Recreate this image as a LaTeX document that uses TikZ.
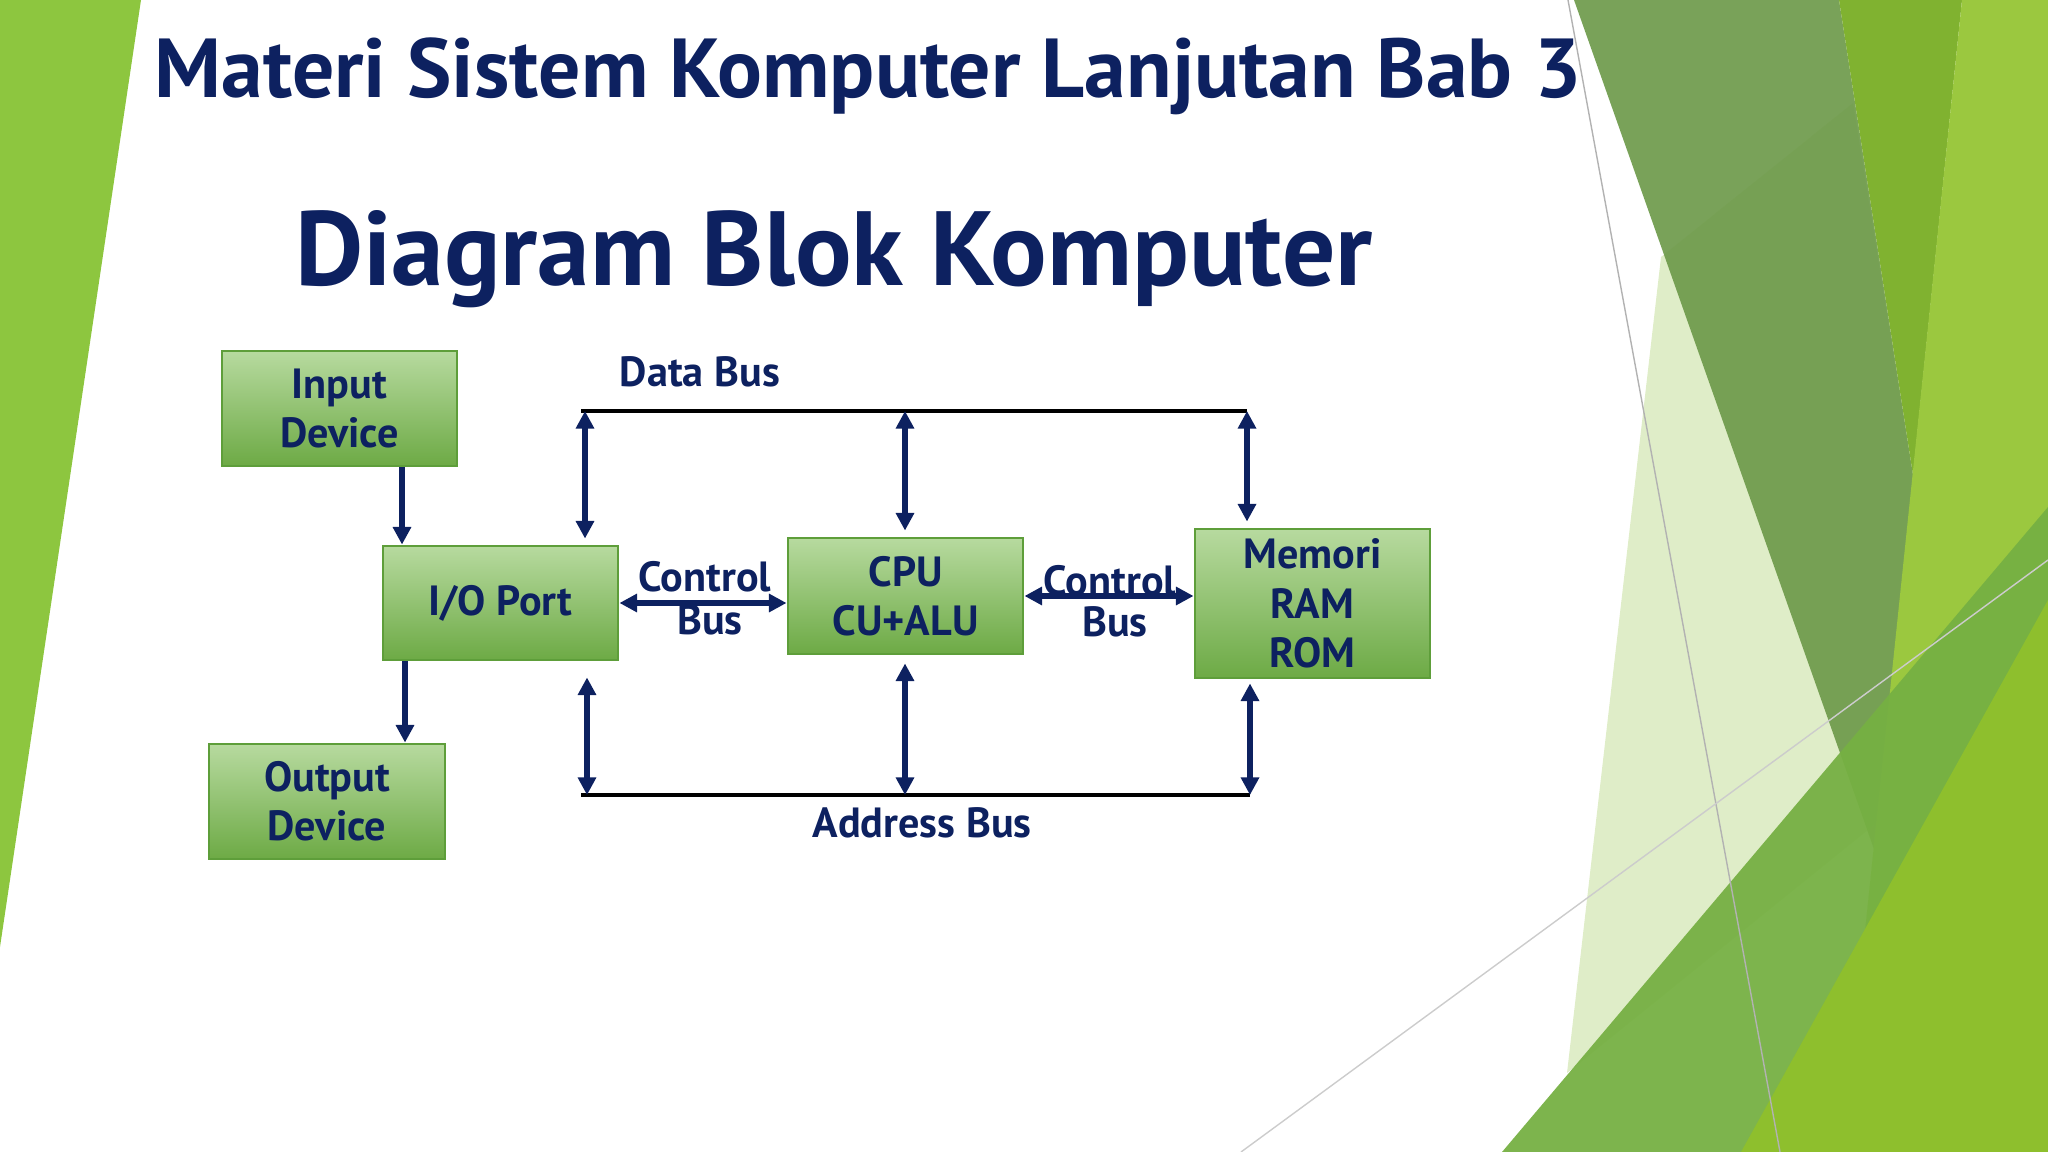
\documentclass[tikz,border=0pt]{standalone}
\usepackage{fontspec}
\setmainfont{PT Sans}
\usetikzlibrary{arrows.meta}
\definecolor{navy}{HTML}{0D2160}
\definecolor{leafA}{HTML}{8DC63F}
\definecolor{leafB}{HTML}{6E9A4B}
\definecolor{leafC}{HTML}{80B230}
\definecolor{leafD}{HTML}{9BC83F}
\definecolor{leafE}{HTML}{76B043}
\definecolor{leafF}{HTML}{8EBF2D}
\definecolor{pale}{HTML}{DCEBC2}
\definecolor{boxtop}{HTML}{B7DA9F}
\definecolor{boxbot}{HTML}{6DAA45}
\definecolor{boxline}{HTML}{5E9E3A}
\tikzset{
  blok/.style={draw=boxline, line width=0.8pt, top color=boxtop, bottom color=boxbot,
    text=navy, font=\bfseries\fontsize{12}{14}\selectfont, align=center, inner sep=0pt},
  arr/.style={navy, line width=1.5pt, -{Triangle[length=5pt,width=5pt]}},
  darr/.style={arr, {Triangle[length=5pt,width=5pt]}-{Triangle[length=5pt,width=5pt]}},
  bus/.style={black, line width=1.2pt},
  lbl/.style={text=navy, font=\bfseries\fontsize{12}{14}\selectfont, inner sep=1pt},
}
\begin{document}
\begin{tikzpicture}[x=0.01cm, y=-0.01cm]
\useasboundingbox (0,0) rectangle (2048,1152);
% background leaves
\fill[leafA] (0,0) -- (141,0) -- (0,947) -- cycle;
\fill[pale, opacity=0.9] (1661,257) -- (1853,103) -- (1958,757) -- (1567,1073) -- cycle;
\fill[leafB, opacity=0.92] (1574,0) -- (1839,0) -- (1913,475) -- (1875,852) -- cycle;
\fill[leafC] (1839,0) -- (1962,0) -- (1913,475) -- cycle;
\fill[leafD] (1962,0) -- (2048,0) -- (2048,1152) -- (1842,1152) -- cycle;
\fill[leafE, opacity=0.95] (1502,1152) -- (2048,507) -- (2048,1152) -- cycle;
\fill[leafF] (1741,1152) -- (2048,600) -- (2048,1152) -- cycle;
\draw[gray!60, line width=0.4pt] (1568,0) -- (1780,1152);
\draw[gray!40, line width=0.4pt] (1241,1152) -- (2048,560);
% titles
\node[text=navy, font=\bfseries\fontsize{23.8}{28}\selectfont, anchor=base west, inner sep=0pt]
  (judul) at (154,98) {Materi Sistem Komputer Lanjutan Bab 3};
\node[text=navy, font=\bfseries\fontsize{30}{36}\selectfont, anchor=base, inner sep=0pt]
  (sub) at (834,286) {Diagram Blok Komputer};
% blocks
\node[blok, minimum width=2.35cm, minimum height=1.15cm] (in) at (339.5,408.5) {Input\\Device};
\node[blok, minimum width=2.35cm, minimum height=1.14cm] (io) at (500.5,603) {I/O Port};
\node[blok, minimum width=2.35cm, minimum height=1.16cm] (cpu) at (905.5,596) {CPU\\CU+ALU};
\node[blok, minimum width=2.35cm, minimum height=1.49cm] (mem) at (1312.5,603.5) {Memori\\RAM\\ROM};
\node[blok, minimum width=2.36cm, minimum height=1.15cm] (out) at (327,801.5) {Output\\Device};
% buses
\coordinate (d1) at (585,411); \coordinate (d2) at (905,411); \coordinate (d3) at (1247,411);
\coordinate (a1) at (587,795); \coordinate (a2) at (905,795); \coordinate (a3) at (1250,795);
\draw[bus] (581,411) -- (d3);
\draw[bus] (581,795) -- (a3);
\node[lbl] (dbus) at (700,372) {Data Bus};
\node[lbl] (abus) at (922,823) {Address Bus};
\draw[darr] (d1) -- ([yshift=0.06cm]d1 |- io.north);
\draw[darr] (d2) -- ([yshift=0.06cm]d2 |- cpu.north);
\draw[darr] (d3) -- ([yshift=0.06cm]d3 |- mem.north);
\draw[darr] (a1) -- ([yshift=-0.16cm]a1 |- io.south);
\draw[darr] (a2) -- ([yshift=-0.08cm]a2 |- cpu.south);
\draw[darr] (a3) -- ([yshift=-0.04cm]a3 |- mem.south);
% control buses
\draw[darr] (io.east) -- (io.east -| cpu.west);
\draw[darr] (cpu.east) -- (cpu.east -| mem.west);
\node[lbl, anchor=south] (c1a) at (705,596) {Control};
\node[lbl, anchor=north] (c1b) at (710,600) {Bus};
\node[lbl, anchor=south] (c2a) at (1110,600) {Control};
\node[lbl, anchor=north] (c2b) at (1115,602) {Bus};
% device links
\draw[arr] (in.south -| 402,0) -- (io.north -| 402,0);
\draw[arr] (io.south -| 405,0) -- (out.north -| 405,0);
\end{tikzpicture}
\end{document}
